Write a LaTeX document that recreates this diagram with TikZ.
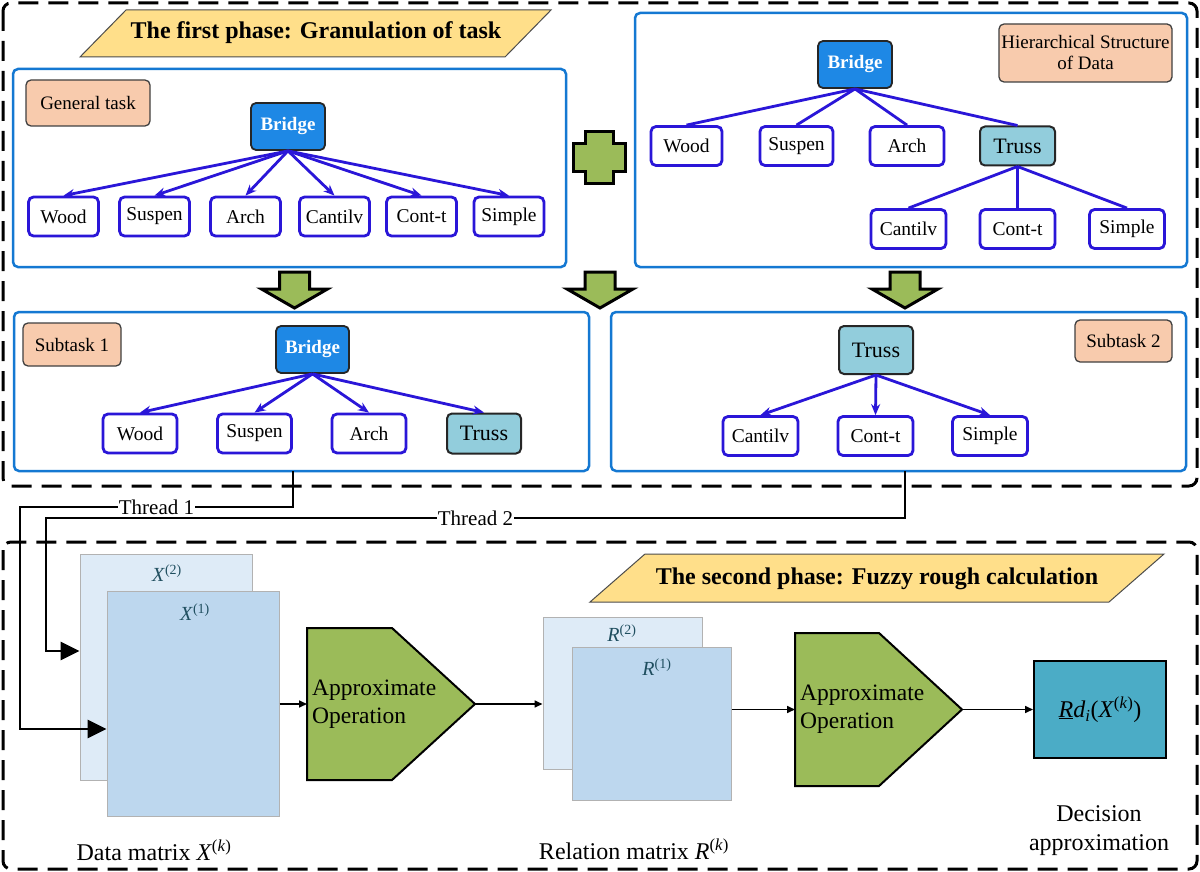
\documentclass[tikz,border=0pt]{standalone}
\usepackage{fontspec}
\setmainfont{Liberation Serif}
\usetikzlibrary{arrows.meta,calc}
\definecolor{cCont}{HTML}{1478D2}
\definecolor{cLeaf}{HTML}{2A16D8}
\definecolor{cBridge}{HTML}{1E88E5}
\definecolor{cTruss}{HTML}{92CDDC}
\definecolor{cPeach}{HTML}{F8CBAD}
\definecolor{cTitle}{HTML}{FFDF8A}
\definecolor{cGreen}{HTML}{9BBB59}
\definecolor{cMatA}{HTML}{DEEBF7}
\definecolor{cMatB}{HTML}{BDD7EE}
\definecolor{cRes}{HTML}{4BACC6}
\definecolor{cLab}{HTML}{1F4E5F}
\newcommand{\fsz}[2]{\fontsize{#1}{#2}\selectfont}
\begin{document}
\begin{tikzpicture}[x=1pt,y=-1pt,
  container/.style={draw=cCont,line width=2.5pt,rounded corners=5pt,inner sep=0pt},
  leaf/.style={draw=cLeaf,line width=2.8pt,rounded corners=5pt,fill=white,minimum width=70pt,minimum height=39pt,inner sep=0pt,font=\fsz{19.5}{23}},
  bridge/.style={draw=black!85,line width=1.8pt,rounded corners=5pt,fill=cBridge,text=white,minimum width=74pt,minimum height=47pt,inner sep=0pt,font=\fsz{19}{23}\bfseries},
  truss/.style={draw=black!85,line width=2pt,rounded corners=5pt,fill=cTruss,minimum width=75pt,minimum height=40pt,inner sep=0pt,font=\fsz{22}{26}},
  tag/.style={draw=black!75,line width=1.3pt,rounded corners=5pt,fill=cPeach,inner sep=0pt,font=\fsz{19}{21},align=center},
  link/.style={draw=cLeaf,line width=2.8pt},
  linkarr/.style={link,-{Stealth[length=11pt,width=9pt]}},
  outer/.style={draw=black,line width=3pt,dash pattern=on 20pt off 10pt,rounded corners=8pt},
  phase/.style={fill=cTitle,draw=black!70,line width=1pt},
  phasetext/.style={font=\fsz{24}{28}\bfseries,inner sep=0pt},
  greenshape/.style={fill=cGreen,draw=black,line width=3pt,line join=miter},
  thread/.style={draw=black,line width=2.8pt,-{Triangle[length=19pt,width=18pt]}},
  threadlab/.style={fill=white,inner sep=1pt,font=\fsz{21}{24}},
  matA/.style={fill=cMatA,draw=black!30,line width=1pt,inner sep=0pt},
  matB/.style={fill=cMatB,draw=black!30,line width=1pt,inner sep=0pt},
  matlab/.style={text=cLab,font=\fsz{20}{24},inner sep=0pt},
  pent/.style={fill=cGreen,draw=black,line width=2pt},
  pentlab/.style={font=\fsz{23.5}{28},align=left,anchor=west,inner sep=0pt},
  smallarr/.style={draw=black,line width=1.6pt,-{Triangle[length=8pt,width=7pt]}},
  caption/.style={font=\fsz{24}{29},align=center,inner sep=0pt},
  downarrow/.pic={\draw[greenshape] (-15,0) -- (15,0) -- (15,17) -- (33,17) -- (0,36) -- (-33,17) -- (-15,17) -- cycle;},
  plussign/.pic={\draw[greenshape] (-14,-26) -- (14,-26) -- (14,-14) -- (26,-14) -- (26,14) -- (14,14) -- (14,26) -- (-14,26) -- (-14,14) -- (-26,14) -- (-26,-14) -- (-14,-14) -- cycle;}
]
\fill[white] (0,0) rectangle (1200,872);
\useasboundingbox (0,0) rectangle (1200,872);

% outer dashed frames
\draw[outer] (3,3) rectangle (1197,486);
\draw[outer] (3,542) rectangle (1197,869);

% phase 1 title
\draw[phase] (80,57) -- (126,10) -- (551,10) -- (505,57) -- cycle;
\node[phasetext] (ph1) at (316,33) {The first phase: Granulation of task};

% general task box
\node[container,minimum width=553pt,minimum height=198pt] (box1) at (289.5,168) {};
\node[tag,minimum width=124pt,minimum height=46pt] (tag1) at (88,103) {General task};
\node[bridge] (gb) at (288,126.5) {Bridge};
\node[leaf] (gw) at (63.5,216.5) {Wood};
\node[leaf] (gs) at (154.5,216.5) {Suspen};
\node[leaf] (ga) at (245.5,216.5) {Arch};
\node[leaf] (gc) at (334.5,216.5) {Cantilv};
\node[leaf] (gt) at (421.5,216.5) {Cont-t};
\node[leaf] (gp) at (509,216.5) {Simple};
\foreach \n in {gw,gs,ga,gc,gt,gp} \draw[linkarr] (gb.south) -- (\n.north);

% hierarchical structure box
\node[container,minimum width=552pt,minimum height=254pt] (box2) at (911,140) {};
\node[tag,minimum width=173pt,minimum height=58pt] (tag2) at (1085.5,53) {Hierarchical Structure\\of Data};
\node[bridge] (hb) at (855,64.5) {Bridge};
\node[leaf,minimum width=71pt] (hw) at (686.5,146) {Wood};
\node[leaf,minimum width=73pt] (hs) at (796.5,146) {Suspen};
\node[leaf,minimum width=74pt] (ha) at (907,146) {Arch};
\node[truss,minimum height=39pt] (ht) at (1017.5,146) {Truss};
\node[leaf,minimum width=75pt] (hc) at (908.5,229) {Cantilv};
\node[leaf,minimum width=75pt] (hn) at (1017.5,229) {Cont-t};
\node[leaf,minimum width=75pt] (hp) at (1127,229) {Simple};
\foreach \n in {hw,hs,ha,ht} \draw[link] (hb.south) -- (\n.north);
\foreach \n in {hc,hn,hp} \draw[link] (ht.south) -- (\n.north);

% plus and down arrows
\pic at (599,158) {plussign};
\pic at (294.5,272) {downarrow};
\pic at (600,272) {downarrow};
\pic at (905,272) {downarrow};

% subtask 1
\node[container,minimum width=575pt,minimum height=159pt] (sub1) at (301.5,391.5) {};
\node[tag,minimum width=98pt,minimum height=43pt] (tag3) at (72,344.5) {Subtask 1};
\node[bridge,minimum width=73pt] (sb) at (312.5,349.5) {Bridge};
\node[leaf,minimum width=74pt] (sw) at (140,433.5) {Wood};
\node[leaf,minimum width=74pt] (ss) at (254.5,433.5) {Suspen};
\node[leaf,minimum width=74pt] (sa) at (369,433.5) {Arch};
\node[truss,minimum width=74pt] (st) at (484,433.5) {Truss};
\foreach \n in {sw,ss,sa,st} \draw[linkarr] (sb.south) -- (\n.north);

% subtask 2
\node[container,minimum width=575pt,minimum height=159pt] (sub2) at (898.5,391.5) {};
\node[tag,minimum width=97pt,minimum height=42pt] (tag4) at (1123.5,341) {Subtask 2};
\node[truss,minimum width=74pt,minimum height=48pt] (tt) at (876,350) {Truss};
\node[leaf,minimum width=75pt] (tc) at (760.5,436) {Cantilv};
\node[leaf,minimum width=75pt] (tn) at (875.5,436) {Cont-t};
\node[leaf,minimum width=75pt] (tp) at (990,436) {Simple};
\foreach \n in {tc,tn,tp} \draw[linkarr] (tt.south) -- (\n.north);

% phase 2 title
\draw[phase] (590,602) -- (645,554) -- (1164,554) -- (1109,602) -- cycle;
\node[phasetext] (ph2) at (877,579) {The second phase: Fuzzy rough calculation};

% data matrices
\node[matA,minimum width=172pt,minimum height=226pt] (X2) at (166,667) {};
\node[matlab] (X2l) at (167,573) {\textit{X}\textsuperscript{(2)}};
\node[matB,minimum width=172pt,minimum height=225pt] (X1) at (193,703.5) {};
\node[matlab] (X1l) at (195,612) {\textit{X}\textsuperscript{(1)}};

% pentagon 1
\draw[pent] (307,628) -- (392,628) -- (475,704) -- (392,780) -- (307,780) -- cycle;
\coordinate (p1in) at (307,704);
\coordinate (p1tip) at (475,704);
\node[pentlab] (p1l) at (312,704) {Approximate\\Operation};

% relation matrices
\node[matA,minimum width=159pt,minimum height=152pt] (R2) at (622.5,693) {};
\node[matlab] (R2l) at (622,633) {\textit{R}\textsuperscript{(2)}};
\node[matB,minimum width=159pt,minimum height=153pt] (R1) at (651.5,723.5) {};
\node[matlab] (R1l) at (657,667) {\textit{R}\textsuperscript{(1)}};

% pentagon 2
\draw[pent] (795,633) -- (879,633) -- (962,709.5) -- (879,786) -- (795,786) -- cycle;
\coordinate (p2in) at (795,709.5);
\coordinate (p2tip) at (962,709.5);
\node[pentlab] (p2l) at (800,709.5) {Approximate\\Operation};

% result
\node[fill=cRes,draw=black,line width=2pt,minimum width=132pt,minimum height=97pt,inner sep=0pt,font=\fsz{24}{28}] (res) at (1100,709.5)
  {\underline{\textit{R}}\textit{d}\textsubscript{\textit{i}}(\textit{X}\textsuperscript{(\textit{k})})};

% flow arrows
\draw[smallarr] (X1.east |- p1in) -- (p1in);
\draw[smallarr] (p1tip) -- (p1tip -| R2.west);
\draw[smallarr] (R1.east |- p2in) -- (p2in);
\draw[smallarr] (p2tip) -- (res.west);

% captions
\node[caption] (cap1) at (154,850) {Data matrix \textit{X}\textsuperscript{(\textit{k})}};
\node[caption] (cap2) at (634,849) {Relation matrix \textit{R}\textsuperscript{(\textit{k})}};
\node[caption] (cap3) at (1099,831) {Decision\\approximation};

% threads
\coordinate (t1s) at (293,471);
\coordinate (t1a) at (20,507);
\coordinate (t1b) at (20,729);
\coordinate (t2s) at (905,471);
\coordinate (t2a) at (46,518);
\coordinate (t2b) at (46,651);
\draw[thread] (t1s) -- (t1s |- t1a) -- node[threadlab] (th1) {Thread 1} (t1a) -- (t1b) -- (X1.west |- t1b);
\draw[thread] (t2s) -- (t2s |- t2a) -- node[threadlab] (th2) {Thread 2} (t2a) -- (t2b) -- (X2.west |- t2b);
\end{tikzpicture}
\end{document}
